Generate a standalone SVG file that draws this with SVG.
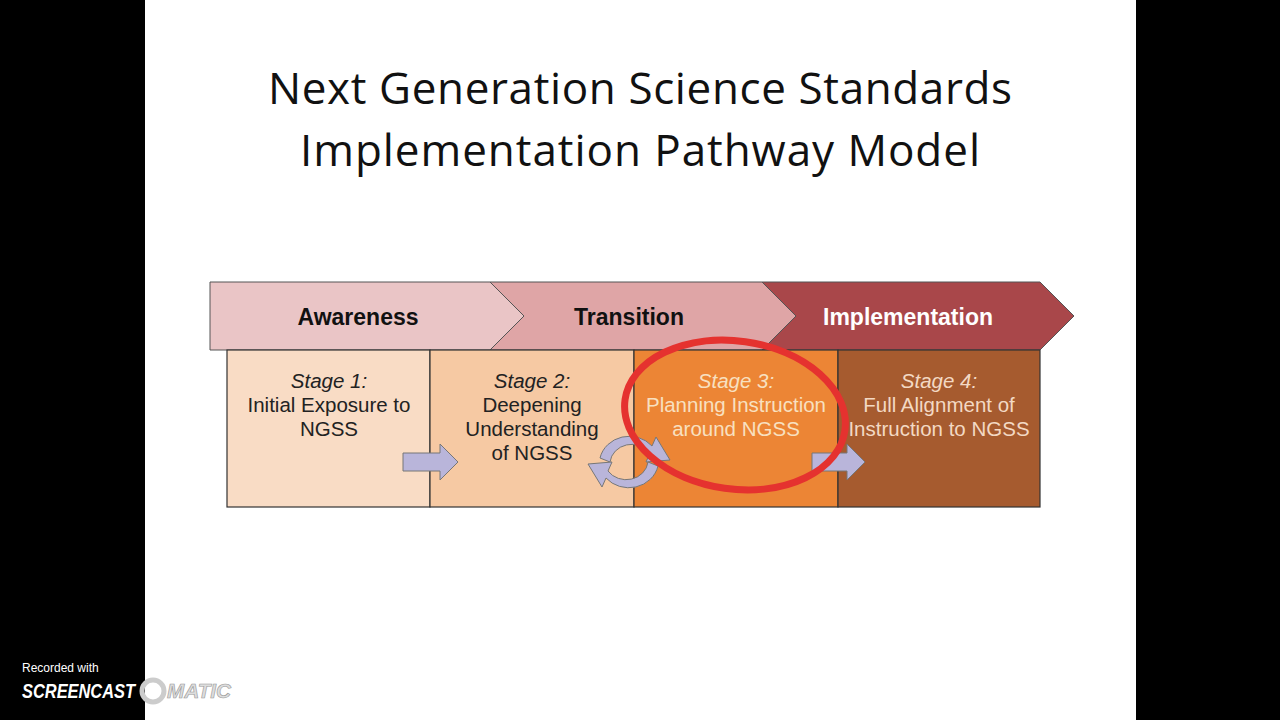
<svg xmlns="http://www.w3.org/2000/svg" width="1280" height="720" viewBox="0 0 1280 720">
<style>
.t{font-family:"Liberation Sans",Arial,sans-serif;font-size:20.5px;text-anchor:middle}
.h{font-family:"Liberation Sans",Arial,sans-serif;font-size:23px;font-weight:bold;text-anchor:middle}
.title{font-family:"Open Sans","Noto Sans",sans-serif;font-size:44px;text-anchor:middle;fill:#111}
.box{stroke:#333;stroke-width:1.2}
.arr{fill:#b9b5da;stroke:#777;stroke-width:1}
</style>
<rect width="1280" height="720" fill="#000"/>
<rect x="145" y="0" width="991" height="720" fill="#fff"/>
<text class="title" x="640" y="104" textLength="744">Next Generation Science Standards</text>
<text class="title" x="640" y="166" textLength="680">Implementation Pathway Model</text>
<g id="implementation-chevron"><path d="M762 282H1040L1074 316L1040 350H762L796 316Z" fill="#a9474a" stroke="#555"/><text class="h" x="908" y="325" fill="#fff">Implementation</text></g>
<g id="transition-chevron"><path d="M490 282H762L796 316L762 350H490L524 316Z" fill="#dfa5a6" stroke="#555"/><text class="h" x="629" y="325" fill="#111">Transition</text></g>
<g id="awareness-chevron"><path d="M210 282H490L524 316L490 350H210Z" fill="#eac5c6" stroke="#555"/><text class="h" x="358" y="325" fill="#111">Awareness</text></g>
<g id="stage1"><rect class="box" x="227" y="350" width="203" height="157" fill="#f9dcc5"/><text class="t" x="329" y="388" font-style="italic" fill="#222">Stage 1:</text><text class="t" x="329" y="412" fill="#222">Initial Exposure to</text><text class="t" x="329" y="436" fill="#222">NGSS</text></g>
<g id="stage2"><rect class="box" x="430" y="350" width="204" height="157" fill="#f6c9a3"/><text class="t" x="532" y="388" font-style="italic" fill="#222">Stage 2:</text><text class="t" x="532" y="412" fill="#222">Deepening</text><text class="t" x="532" y="436" fill="#222">Understanding</text><text class="t" x="532" y="460" fill="#222">of NGSS</text></g>
<g id="stage3"><rect class="box" x="634" y="350" width="204" height="157" fill="#ec8535"/><text class="t" x="736" y="388" font-style="italic" fill="#f8e0c0">Stage 3:</text><text class="t" x="736" y="412" fill="#f8e0c0">Planning Instruction</text><text class="t" x="736" y="436" fill="#f8e0c0">around NGSS</text></g>
<g id="stage4"><rect class="box" x="838" y="350" width="202" height="157" fill="#a65b2f"/><text class="t" x="939" y="388" font-style="italic" fill="#f3d9c4">Stage 4:</text><text class="t" x="939" y="412" fill="#f3d9c4">Full Alignment of</text><text class="t" x="939" y="436" fill="#f3d9c4">Instruction to NGSS</text></g>
<g id="connectors">
<path class="arr" d="M403 453H440V444L458 462L440 480V471H403Z"/>
<path class="arr" d="M812 453H847V444L865 462L847 480V471H812Z"/>
<path class="arr" d="M600 458A30 28 0 0 1 652 446L656 437L670 460L646 462L650 453A22 20 0 0 0 610 462Z"/>
<path class="arr" d="M658 466A30 28 0 0 1 606 478L602 487L588 464L612 462L608 471A22 20 0 0 0 648 462Z"/>
</g>
<ellipse cx="735" cy="415" rx="111" ry="74" transform="rotate(8 735 415)" fill="none" stroke="#e5322f" stroke-width="7"/>
<text x="22" y="672" font-family="Liberation Sans,sans-serif" font-size="12" fill="#fff">Recorded with</text>
<text x="22" y="698" font-family="Liberation Sans,sans-serif" font-size="20" font-weight="bold" font-style="italic" fill="#fff" textLength="113" lengthAdjust="spacingAndGlyphs">SCREENCAST</text>
<circle cx="153" cy="691" r="11" fill="none" stroke="#ccc" stroke-width="5"/>
<text x="167" y="698" font-family="Liberation Sans,sans-serif" font-size="20" font-weight="bold" font-style="italic" fill="#ddd" stroke="#999" stroke-width="0.6" textLength="64" lengthAdjust="spacingAndGlyphs">MATIC</text>
</svg>
